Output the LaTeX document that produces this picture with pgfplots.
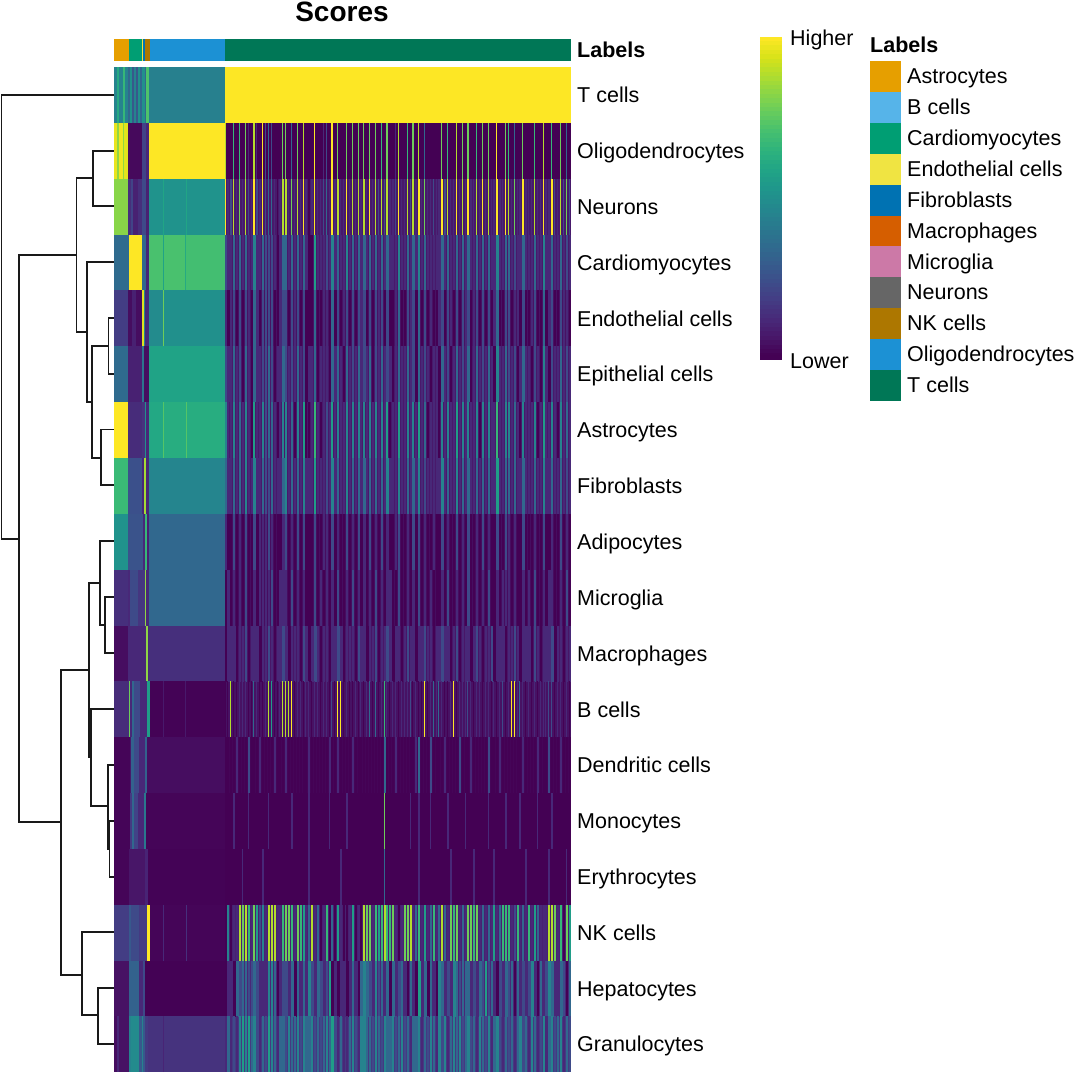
\documentclass[border=0pt]{standalone}
\usepackage{fontspec}
\setmainfont{Liberation Sans}
\usepackage{pgfplots}
\usepackage{pgfplotstable}
\pgfplotsset{compat=1.18}
\pgfdeclareplotmark{cell}{\pgfpathrectangle{\pgfpoint{0pt}{-28.1pt}}{\pgfpoint{\pgfplotmarksize}{56.2pt}}\pgfusepathqfill}
\pgfdeclareplotmark{cbcell}{\pgfpathrectangle{\pgfpoint{0pt}{-2.5pt}}{\pgfpoint{22pt}{5pt}}\pgfusepathqfill}
% Right part of the heatmap: one line per row (Oligodendrocytes ... Granulocytes), 120 columns
\pgfplotstableread[header=false]{
8 0 0 6 0 6 0 7 1 0  8 1 0 9 2 3 2 0 0 0  7 7 0 3 0 7 0 8 0 0  0 9 0 0 1 2 0 9 0 7  0 0 7 0 7 0 7 0 7 0  7 0 7 0 6 0 7 0 0 1  8 0 0 6 0 7 0 8 0 3  0 0 0 0 0 7 0 6 0 0  8 0 7 0 7 0 0 6 0 7  0 7 0 0 9 0 0 7 6 0  3 0 0 7 0 0 0 6 0 0  8 0 0 6 0 0 7 0 3 0
9 1 2 8 1 7 1 8 2 1  9 2 1 9 2 3 3 1 0 1  8 8 1 7 1 8 1 9 1 0  1 9 1 1 2 3 1 9 1 8  1 1 9 1 8 1 8 1 8 1  9 1 8 2 8 2 8 1 1 2  9 1 1 8 2 8 1 9 1 7  1 1 2 1 1 9 2 8 1 1  9 1 8 1 9 1 1 8 1 9  1 8 1 1 9 1 1 9 8 1  7 1 1 9 1 1 1 8 1 1  9 1 1 9 2 1 8 2 7 2
2 1 1 3 1 3 1 3 1 1  4 1 1 3 2 2 2 1 0 1  3 3 1 3 1 3 1 3 1 0  0 5 1 1 1 2 1 4 1 3  1 1 4 1 3 1 3 1 3 1  3 1 3 1 3 1 3 1 1 1  4 1 1 3 1 3 1 4 1 3  1 1 1 1 1 3 1 3 1 1  3 1 3 1 3 1 1 3 1 3  1 3 1 1 4 1 1 3 3 1  2 1 1 3 1 1 1 3 1 1  4 1 1 3 1 1 3 1 2 1
1 0 1 2 0 2 0 2 1 0  3 1 0 2 2 2 2 0 0 1  2 2 0 2 1 2 0 2 0 0  0 3 0 0 1 1 0 3 0 2  0 1 2 0 2 0 2 1 2 0  2 0 2 1 2 0 2 0 0 1  3 0 0 2 1 2 0 3 0 2  0 1 0 0 1 2 0 2 1 0  2 0 2 1 2 0 1 2 0 2  0 2 0 1 3 0 0 2 2 0  1 1 0 2 0 0 1 2 0 0  3 0 1 2 0 0 2 1 1 0
2 1 1 3 1 2 0 3 1 0  3 1 1 2 2 3 2 0 1 1  3 2 1 2 1 3 1 2 0 1  1 3 0 1 1 1 0 3 1 3  1 0 3 1 2 1 3 1 2 1  3 0 2 1 3 1 2 1 0 1  3 1 1 3 1 2 0 3 1 2  1 0 1 1 0 3 1 2 0 1  3 1 2 1 3 0 1 3 1 2  1 3 1 0 4 1 1 3 2 1  2 0 1 3 1 1 0 2 1 0  4 1 0 2 1 1 3 1 2 1
4 1 1 4 1 3 1 4 1 0  5 1 1 4 2 3 3 1 0 1  4 4 1 3 0 4 1 5 0 0  1 6 1 0 1 2 1 5 1 4  1 1 4 1 4 1 4 1 4 1  4 1 4 1 4 1 5 0 1 1  5 1 1 4 1 4 1 5 1 3  0 1 1 1 0 4 1 4 1 1  5 1 4 1 4 1 1 4 0 4  1 4 1 1 6 1 1 4 4 1  3 1 0 4 1 1 1 4 0 1  5 1 1 4 1 0 4 1 3 1
3 1 1 3 1 3 1 4 1 1  4 1 1 3 2 2 3 1 1 1  3 4 1 3 1 3 1 4 1 1  1 5 1 1 1 2 1 4 1 3  1 1 4 1 3 1 3 1 3 1  3 1 3 1 3 1 4 1 1 1  4 1 1 3 1 3 1 4 1 2  1 1 1 1 1 4 1 3 1 1  4 1 3 1 3 1 1 3 1 3  1 3 1 1 5 1 1 3 3 1  3 1 1 3 1 1 1 3 1 1  4 1 1 3 1 1 3 1 2 1
1 0 0 2 0 1 0 2 0 0  2 0 1 1 1 2 1 0 0 0  1 2 0 1 0 2 0 2 0 0  0 2 0 0 1 1 0 2 0 1  0 0 2 0 1 0 2 0 1 0  2 0 1 0 2 0 1 0 0 1  2 0 0 1 0 2 0 2 0 1  0 0 1 0 0 2 0 1 0 0  2 0 1 0 2 0 0 1 0 2  0 1 0 0 2 0 0 2 1 0  1 0 0 2 0 0 0 1 0 0  2 0 0 1 0 0 2 0 1 0
0 1 0 1 0 1 0 2 0 0  1 0 1 1 1 1 2 0 0 1  1 1 0 2 0 1 0 1 0 0  0 2 0 1 0 1 0 1 0 2  0 0 1 0 2 0 1 0 1 0  1 0 2 0 1 0 1 1 0 0  2 0 0 1 0 1 0 2 0 1  0 1 0 0 0 1 0 2 0 0  1 0 1 0 2 0 0 1 0 1  0 2 0 0 1 0 1 1 1 0  1 0 0 1 0 1 0 2 0 0  1 0 1 1 0 0 1 0 2 0
0 1 1 1 0 1 1 2 0 1  1 1 0 1 1 2 1 0 1 1  2 1 0 1 1 1 0 2 1 0  1 2 1 0 1 1 0 1 1 2  1 0 1 1 1 0 2 1 1 0  1 1 2 0 1 1 2 1 0 1  1 0 1 2 1 1 0 1 1 2  1 1 0 1 1 2 1 1 0 1  2 0 1 1 1 0 1 2 1 0  1 1 2 0 1 1 1 0 1 1  2 1 0 1 1 1 0 2 1 0  1 1 1 2 0 1 1 0 1 1
0 0 8 0 0 1 1 1 0 0  3 1 0 0 1 8 5 0 0 1  8 8 8 9 0 1 1 0 1 1  0 1 1 0 1 1 0 2 0 9  9 0 1 0 0 1 0 1 0 1  3 0 3 0 1 6 1 0 1 1  0 1 1 1 2 0 1 0 0 9  0 1 3 1 3 1 0 0 1 9  0 1 1 1 2 1 0 1 1 0  1 1 0 1 0 1 2 0 1 9  9 1 3 1 0 1 0 1 0 1  1 1 2 2 0 1 1 0 1 0
0 0 0 0 1 0 0 0 2 0  0 0 1 0 0 0 0 1 0 0  0 1 0 0 0 0 0 0 0 1  0 0 0 0 0 0 1 0 0 1  0 0 0 0 1 0 0 0 0 0  0 0 0 0 0 3 0 0 0 1  0 0 0 0 0 0 1 3 0 0  0 2 0 0 0 0 1 0 0 0  0 2 0 0 0 1 0 0 0 0  0 2 0 0 0 1 0 0 0 0  0 0 0 1 0 0 0 0 1 0  0 0 2 0 0 0 1 0 0 0
0 0 0 1 0 0 0 0 1 0  0 0 0 0 0 1 0 0 0 0  0 0 0 1 0 0 0 0 0 1  0 0 0 0 0 0 1 0 0 0  0 0 1 0 0 0 0 0 0 0  0 0 0 0 0 7 0 0 0 0  0 0 0 0 1 0 0 1 0 0  0 1 0 0 0 0 0 1 0 0  0 0 0 1 0 0 0 0 0 0  0 1 0 0 0 0 0 1 0 0  0 0 1 0 0 0 0 0 1 0  0 0 0 1 0 0 0 0 0 0
0 0 0 0 0 0 1 0 0 0  0 0 0 1 0 0 0 0 0 0  0 0 0 0 0 0 0 0 0 1  0 0 0 0 0 0 0 0 0 0  1 0 0 0 0 0 0 0 0 0  0 0 0 0 0 3 0 0 0 0  0 0 0 0 0 0 0 1 0 0  0 0 0 0 0 0 0 0 1 0  0 0 0 0 0 0 1 0 0 0  0 0 0 1 0 0 0 0 0 0  0 0 0 0 1 0 0 0 0 0  0 0 1 0 0 0 0 0 1 0
0 4 0 1 1 8 7 8 6 1  7 5 2 4 1 8 8 8 1 1  6 7 7 6 1 7 6 5 1 3  8 1 3 0 1 6 0 3 0 5  1 0 0 1 5 0 1 0 8 7  7 1 6 5 6 8 6 6 7 1  0 1 7 7 8 1 3 6 1 5  1 3 6 1 3 8 3 1 7 6  7 1 3 1 7 7 6 7 1 3  1 3 1 5 1 3 6 6 6 1  2 6 1 3 1 6 1 5 3 1  1 1 8 8 7 1 6 0 7 5
0 1 1 0 3 2 3 3 2 2  3 2 1 1 1 4 4 3 0 1  2 2 1 3 0 3 1 3 1 4  2 1 3 2 1 2 5 0 1 0  1 1 0 1 3 1 0 3 4 3  2 1 4 2 3 1 3 0 3 1  2 3 1 0 3 1 0 5 1 3  0 3 1 0 4 3 1 2 1 4  3 2 3 3 3 1 2 1 3 2  5 2 3 1 0 2 1 3 2 3  0 3 1 2 1 2 4 1 0 3  1 2 4 3 1 1 3 2 0 3
1 3 1 2 1 4 5 4 5 3  4 2 1 3 2 5 4 3 1 3  3 2 4 3 3 4 2 4 3 3  4 2 3 2 3 4 3 5 2 1  3 1 1 3 4 2 1 4 4 3  3 2 4 3 2 4 3 3 4 2  3 4 2 3 1 3 3 4 1 3  2 4 3 1 4 2 4 1 3 4  3 4 2 3 4 2 3 1 4 3  2 4 1 3 4 2 1 3 2 3  1 3 4 2 3 1 4 3 1 2  4 1 3 4 2 3 4 1 3 2
}\rawright
\pgfplotstabletranspose\rightT{\rawright}
\newcommand\rowplot[3]{\addplot[stripes, mark size=#3pt] table[x expr={224.5+2.8917*\coordindex}, y expr=#2, meta index=#1]{\rightT};}
\newcommand\rect[5]{\addplot[fill=#1, draw=none, forget plot] coordinates {(#2,#4) (#3,#4) (#3,#5) (#2,#5)} --cycle;}
\definecolor{aAstro}{HTML}{E69F00}\definecolor{aB}{HTML}{56B4E9}\definecolor{aCardio}{HTML}{009E73}
\definecolor{aEndo}{HTML}{F0E442}\definecolor{aFibro}{HTML}{0072B2}\definecolor{aMacro}{HTML}{D55E00}
\definecolor{aMicro}{HTML}{CC79A7}\definecolor{aNeuron}{HTML}{666666}\definecolor{aNK}{HTML}{AD7700}
\definecolor{aOligo}{HTML}{1C91D4}\definecolor{aT}{HTML}{007756}
\pgfplotsset{
  stripes/.style={scatter, only marks, mark=cell, point meta=explicit, forget plot,
    scatter/use mapped color={fill=mapped color, draw=none}},
  dend/.style={color=black!90, line width=1.6pt, forget plot, line cap=rect},
}
\begin{document}
\begin{tikzpicture}
\useasboundingbox (0,0) rectangle (1080pt,1078pt);
\begin{axis}[at={(0,0)}, anchor=south west, scale only axis, width=1080pt, height=1078pt,
  xmin=0, xmax=1080, ymin=0, ymax=1078, y dir=reverse, hide axis, clip=false,
  colormap name=viridis, point meta min=0, point meta max=9]
% left part of the heatmap, the solid T cells block and the base tone of each row: x, width, y, value
\addplot[stripes, visualization depends on={\thisrow{w} \as \cellw},
  scatter/@pre marker code/.append style={/tikz/mark size=\cellw}]
  table[x=x, y=y, meta=m] {
x w y m
114 3 95 4
117 2 95 5.5
119 4 95 4
123 2 95 6
125 3 95 4
128 2 95 3
130 2 95 4.5
132 2 95 2.5
134 2 95 4
136 2 95 2.5
138 2 95 4.5
140 2 95 3
142 3 95 4.5
145 1 95 3
146 3 95 6.5
149 14.5 95 3.9
163.5 1 95 3
164.3 60.5 95 3.9
224.5 346.5 95 9
114 3 151 8.7
117 2 151 7.5
119 4 151 8.8
123 1 151 7.5
124 4 151 8.6
128 14 151 0.2
142 4 151 1.8
146 3 151 1
149 75.5 151 9
224.5 346.5 151 0
114 14 207 7.4
128 3 207 1.2
131 2 207 1.8
133 5 207 0.8
138 4 207 1.2
142 4 207 2
146 3 207 0.8
149 14 207 4.6
163 1 207 5.3
164 22 207 4.6
186 1 207 5.3
187 37.5 207 4.6
224.5 346.5 207 0.6
114 14.5 263 3.1
128.5 13.5 263 9
142 4 263 3
146 3 263 0.9
149 14.3 263 6.4
163.3 1 263 5.2
164.3 21 263 6.4
185.3 1 263 5.5
186.3 38.2 263 6.3
224.5 346.5 263 0.6
114 14 318.5 1.6
128 4 318.5 0.3
132 4 318.5 0.8
136 6 318.5 0.3
142 1.5 318.5 8.6
143.5 1 318.5 4
144.5 4.5 318.5 1
149 14.3 318.5 4.3
163.3 1 318.5 7
164.3 60.2 318.5 4.5
224.5 346.5 318.5 0.4
114 14 374 3.1
128 14 374 0.8
142 2 374 3.5
144 5 374 0.3
149 75.5 374 5.2
224.5 346.5 374 0.6
114 14 430 9
128 14 430 1.1
142 3 430 1.3
145 1 430 4.5
146 3 430 1
149 14 430 5.4
163 1 430 6.6
164 22 430 5.6
186 1 430 6.6
187 37.5 430 5.6
224.5 346.5 430 0.6
114 14 486 6.1
128 14 486 2.2
142 2 486 1
144 1.5 486 7.8
145.5 3.5 486 1
149 75.5 486 4.1
224.5 346.5 486 0.6
114 14 542 4.6
128 15 542 2.3
143 2 542 1
145 1.5 542 6
146.5 2.5 542 0.8
149 75.5 542 3
224.5 346.5 542 0.3
114 14 598 1.2
128 2 598 1
130 8 598 2
138 7 598 1.4
145 1 598 7.5
146 3 598 1
149 75.5 598 3
224.5 346.5 598 0.3
114 14 654 0.3
128 18 654 1
146 1.5 654 7.5
147.5 1.5 654 1
149 75.5 654 1.2
224.5 346.5 654 0.5
114 14.5 709.5 1.1
128.5 1 709.5 7
129.5 2.5 709.5 1
132 2 709.5 3
134 4 709.5 2
138 2 709.5 2
140 6.5 709.5 1
146.5 3 709.5 5
149.5 13.5 709.5 0.05
163 1 709.5 0.6
164 21 709.5 0.05
185 1 709.5 0.6
186 38.5 709.5 0.05
224.5 346.5 709.5 0.4
114 15.5 765 0.1
129.5 1.5 765 0.6
131 3 765 2.8
134 5 765 2
139 6 765 1
145 2 765 2.8
147 77.5 765 0.3
224.5 346.5 765 0.1
114 16 821 0.1
130 2 821 1.5
132 2 821 3
134 4 821 1.8
138 6 821 1
144 2 821 3.6
146 78.5 821 0.1
224.5 346.5 821 0
114 15 877 0.1
129 16 877 0.5
145 3 877 0.9
148 76.5 877 0.05
224.5 346.5 877 0
114 15 933 1.6
129 2 933 2.5
131 8 933 2
139 7.5 933 1.5
146.5 3.5 933 9
150 13 933 0.1
163 1 933 1
164 22 933 0.1
186 1 933 1.2
187 37.5 933 0.1
224.5 346.5 933 0.8
114 15 989 0.4
129 10 989 2.8
139 4 989 1
143 2 989 2
145 79.5 989 0.03
224.5 346.5 989 1
114 3 1044 0.3
117 2 1044 1
119 10 1044 0.4
129 2 1044 4
131 8 1044 4.3
139 3 1044 2.5
142 1 1044 4
143 2 1044 2.5
145 3 1044 1.5
148 15 1044 1.3
163 1 1044 0.9
164 22 1044 1.3
186 38.5 1044 1.3
224.5 346.5 1044 1.5
};
% right part of the heatmap, one plot per row: column of the table, y, stripe width
\rowplot{1}{151}{1.1}
\rowplot{2}{207}{1.3}
\rowplot{3}{263}{2.2}
\rowplot{4}{318.5}{2.2}
\rowplot{5}{374}{2.2}
\rowplot{6}{430}{2}
\rowplot{7}{486}{2.2}
\rowplot{8}{542}{2.2}
\rowplot{9}{598}{2.2}
\rowplot{10}{654}{2.4}
\rowplot{11}{709.5}{1}
\rowplot{12}{765}{2}
\rowplot{13}{821}{1.6}
\rowplot{14}{877}{1.6}
\rowplot{15}{933}{2}
\rowplot{16}{989}{2.6}
\rowplot{17}{1044}{2.2}
% annotation bar
\rect{aAstro}{114}{128.5}{39}{61}
\rect{aCardio}{128.5}{142}{39}{61}
\rect{aEndo}{142}{143}{39}{61}
\rect{aFibro}{143}{144.5}{39}{61}
\rect{aNeuron}{144.5}{145}{39}{61}
\rect{aNK}{145}{149.5}{39}{61}
\rect{aOligo}{149.5}{224.5}{39}{61}
\rect{aT}{224.5}{571}{39}{61}
% colour scale
\addplot[scatter, only marks, mark=cbcell, point meta=explicit, forget plot,
  scatter/use mapped color={fill=mapped color, draw=none}]
  table[x expr=760, y=y, meta=m] {
y m
39.2 9
43.6 8.875
48 8.75
52.4 8.625
56.8 8.5
61.2 8.375
65.6 8.25
70 8.125
74.4 8
78.8 7.875
83.2 7.75
87.6 7.625
92 7.5
96.4 7.375
100.8 7.25
105.2 7.125
109.6 7
114 6.875
118.4 6.75
122.8 6.625
127.2 6.5
131.6 6.375
136 6.25
140.4 6.125
144.8 6
149.2 5.875
153.6 5.75
158 5.625
162.4 5.5
166.8 5.375
171.2 5.25
175.6 5.125
180 5
184.4 4.875
188.8 4.75
193.2 4.625
197.6 4.5
202 4.375
206.4 4.25
210.8 4.125
215.2 4
219.6 3.875
224 3.75
228.4 3.625
232.8 3.5
237.2 3.375
241.6 3.25
246 3.125
250.4 3
254.8 2.875
259.2 2.75
263.6 2.625
268 2.5
272.4 2.375
276.8 2.25
281.2 2.125
285.6 2
290 1.875
294.4 1.75
298.8 1.625
303.2 1.5
307.6 1.375
312 1.25
316.4 1.125
320.8 1
325.2 0.875
329.6 0.75
334 0.625
338.4 0.5
342.8 0.375
347.2 0.25
351.6 0.125
355.5 0.02
357.5 0
};
% legend swatches
\rect{aAstro}{870}{901}{61}{92}
\rect{aB}{870}{901}{92}{123}
\rect{aCardio}{870}{901}{123}{154}
\rect{aEndo}{870}{901}{154}{185}
\rect{aFibro}{870}{901}{185}{216}
\rect{aMacro}{870}{901}{216}{246.5}
\rect{aMicro}{870}{901}{246.5}{277}
\rect{aNeuron}{870}{901}{277}{308}
\rect{aNK}{870}{901}{308}{339}
\rect{aOligo}{870}{901}{339}{370}
\rect{aT}{870}{901}{370}{401}
% dendrogram
\addplot[dend] coordinates {(114,95) (1.5,95) (1.5,539) (19,539)};
\addplot[dend] coordinates {(76.5,255) (19,255) (19,822) (61,822)};
\addplot[dend] coordinates {(93,178) (76.5,178) (76.5,332) (87,332)};
\addplot[dend] coordinates {(114,151) (93,151) (93,206) (114,206)};
\addplot[dend] coordinates {(114,262) (87,262) (87,402) (92,402)};
\addplot[dend] coordinates {(108.5,346) (92,346) (92,458) (101,458)};
\addplot[dend] coordinates {(114,318) (108.5,318) (108.5,374) (114,374)};
\addplot[dend] coordinates {(114,429.5) (101,429.5) (101,485) (114,485)};
\addplot[dend] coordinates {(89,670) (61,670) (61,975) (82,975)};
\addplot[dend] coordinates {(100,583) (89,583) (89,757) (91,757)};
\addplot[dend] coordinates {(114,541) (100,541) (100,625) (105,625)};
\addplot[dend] coordinates {(114,597) (105,597) (105,653) (114,653)};
\addplot[dend] coordinates {(114,709) (91,709) (91,806) (108,806)};
\addplot[dend] coordinates {(114,765) (108,765) (108,849) (109.5,849)};
\addplot[dend] coordinates {(114,821) (109.5,821) (109.5,877) (114,877)};
\addplot[dend] coordinates {(114,932) (82,932) (82,1015) (98,1015)};
\addplot[dend] coordinates {(114,988) (98,988) (98,1044) (114,1044)};
% texts
\tikzset{tl/.style={anchor=base west, inner sep=0pt, yshift=-7.7pt, font=\fontsize{21.5}{25}\selectfont}}
\node[anchor=center, inner sep=0pt, font=\fontsize{28}{32}\selectfont\bfseries] at (axis cs:342,12) {Scores};
\node[tl, font=\fontsize{21.5}{25}\selectfont\bfseries] at (axis cs:577,50) {Labels};
\node[tl] at (axis cs:577,95) {T cells};
\node[tl] at (axis cs:577,151) {Oligodendrocytes};
\node[tl] at (axis cs:577,207) {Neurons};
\node[tl] at (axis cs:577,263) {Cardiomyocytes};
\node[tl] at (axis cs:577,318.5) {Endothelial cells};
\node[tl] at (axis cs:577,374) {Epithelial cells};
\node[tl] at (axis cs:577,430) {Astrocytes};
\node[tl] at (axis cs:577,486) {Fibroblasts};
\node[tl] at (axis cs:577,542) {Adipocytes};
\node[tl] at (axis cs:577,598) {Microglia};
\node[tl] at (axis cs:577,654) {Macrophages};
\node[tl] at (axis cs:577,709.5) {B cells};
\node[tl] at (axis cs:577,765) {Dendritic cells};
\node[tl] at (axis cs:577,821) {Monocytes};
\node[tl] at (axis cs:577,877) {Erythrocytes};
\node[tl] at (axis cs:577,933) {NK cells};
\node[tl] at (axis cs:577,989) {Hepatocytes};
\node[tl] at (axis cs:577,1044) {Granulocytes};
\node[tl] at (axis cs:790,38) {Higher};
\node[tl] at (axis cs:790,361) {Lower};
\node[tl, font=\fontsize{21.5}{25}\selectfont\bfseries] at (axis cs:870,45) {Labels};
\node[tl] at (axis cs:907,76) {Astrocytes};
\node[tl] at (axis cs:907,107) {B cells};
\node[tl] at (axis cs:907,138) {Cardiomyocytes};
\node[tl] at (axis cs:907,169) {Endothelial cells};
\node[tl] at (axis cs:907,200) {Fibroblasts};
\node[tl] at (axis cs:907,231) {Macrophages};
\node[tl] at (axis cs:907,262) {Microglia};
\node[tl] at (axis cs:907,292) {Neurons};
\node[tl] at (axis cs:907,323) {NK cells};
\node[tl] at (axis cs:907,354) {Oligodendrocytes};
\node[tl] at (axis cs:907,385) {T cells};
\end{axis}
\end{tikzpicture}
\end{document}
